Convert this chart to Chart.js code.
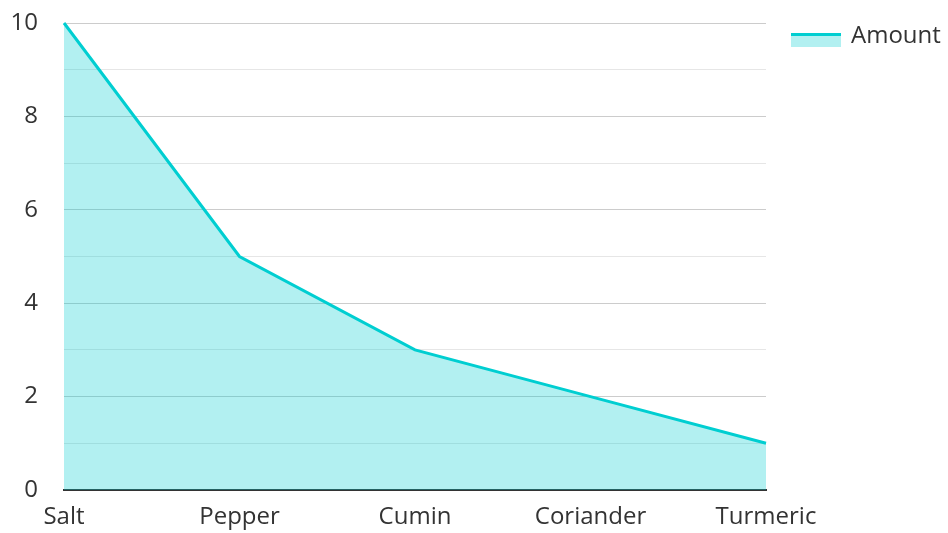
<!DOCTYPE html>
<html>
<head>
<meta charset="utf-8">
<script src="https://cdn.jsdelivr.net/npm/chart.js@4/dist/chart.umd.min.js"></script>
<style>
html,body{margin:0;padding:0;background:#fff;}
#wrap{width:948px;height:533px;position:relative;}
</style>
</head>
<body>
<div id="wrap"><canvas id="c" width="948" height="533"></canvas></div>
<script>
const categories = ["Salt", "Pepper", "Cumin", "Coriander", "Turmeric"];
const amounts = [10, 5, 3, 2, 1];
const seriesName = "Amount";
const yTickLabels = [0, 2, 4, 6, 8, 10];

const LINE = "rgb(0,206,209)";
const FILL = "rgba(0,206,209,0.3)";
const FONT = "'Open Sans', 'Noto Sans', sans-serif";
const FSIZE = 24;

const legendPlugin = {
  id: 'customLegend',
  afterDraw(chart) {
    const ctx = chart.ctx;
    const ds = chart.data.datasets[0];
    ctx.save();
    const x = 791, y = 33, w = 50, h = 14;
    ctx.fillStyle = ds.backgroundColor;
    ctx.fillRect(x, y, w, h);
    ctx.strokeStyle = ds.borderColor;
    ctx.lineWidth = 3;
    ctx.beginPath();
    ctx.moveTo(x, y + 1.5);
    ctx.lineTo(x + w, y + 1.5);
    ctx.stroke();
    ctx.fillStyle = '#333';
    ctx.font = FSIZE + "px " + FONT;
    ctx.textBaseline = 'middle';
    ctx.textAlign = 'left';
    ctx.fillText(ds.label, 851, 36);
    ctx.restore();
  }
};

new Chart(document.getElementById('c'), {
  type: 'line',
  data: {
    labels: categories,
    datasets: [{
      label: seriesName,
      data: amounts,
      borderColor: LINE,
      backgroundColor: FILL,
      borderWidth: 3,
      fill: 'origin',
      tension: 0,
      pointRadius: 0,
      pointHoverRadius: 0,
      clip: false
    }]
  },
  options: {
    responsive: false,
    animation: false,
    devicePixelRatio: 1,
    layout: { padding: { top: 23, right: 182, left: 0, bottom: 0 } },
    plugins: {
      legend: { display: false },
      tooltip: { enabled: false }
    },
    scales: {
      x: {
        offset: false,
        grid: { display: false, drawTicks: false },
        border: { display: true, color: '#333', width: 2 },
        ticks: {
          color: '#333',
          font: { family: FONT, size: FSIZE },
          padding: 13,
          maxRotation: 0,
          autoSkip: false
        },
        afterFit: (s) => { s.height = 43; s.paddingLeft = 0; s.paddingRight = 0; }
      },
      y: {
        min: 0,
        max: 10,
        grid: {
          drawTicks: false,
          color: (c) => (c.tick && yTickLabels.includes(c.tick.value)) ? '#cccccc' : '#e6e6e6',
          lineWidth: 1
        },
        border: { display: false },
        ticks: {
          stepSize: 1,
          color: '#333',
          font: { family: FONT, size: FSIZE },
          padding: 26,
          callback: (v) => yTickLabels.includes(v) ? String(v) : ''
        },
        afterFit: (s) => { s.width = 64; s.paddingTop = 0; s.paddingBottom = 0; }
      }
    }
  },
  plugins: [legendPlugin]
});
</script>
</body>
</html>
